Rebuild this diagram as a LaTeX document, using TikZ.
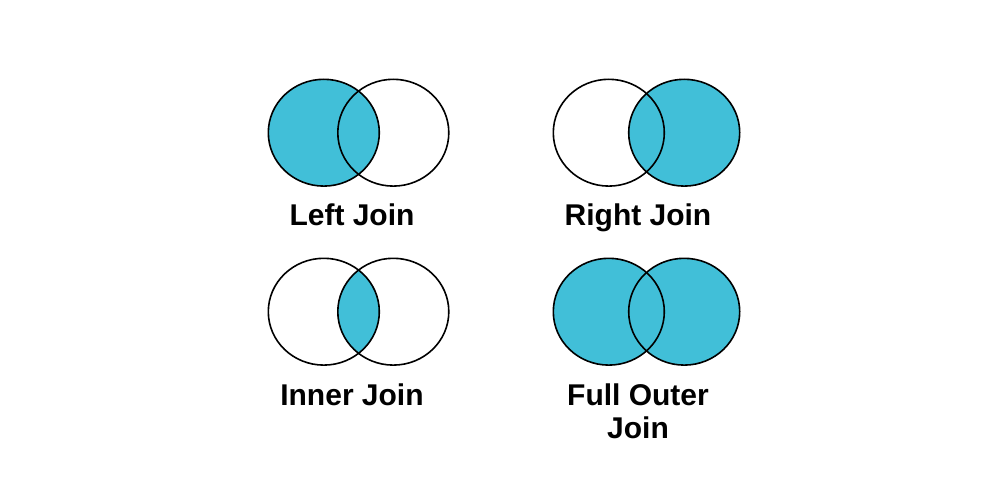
\documentclass[tikz,border=0pt]{standalone}
\usepackage{fontspec}
\setmainfont{Liberation Sans}
\definecolor{joinfill}{HTML}{41BFD8}
\begin{document}
\begin{tikzpicture}[x=1pt,y=-1pt,
  ring/.style={draw=black,line width=1.6pt},
  lbl/.style={font=\bfseries\fontsize{30}{34}\selectfont,anchor=base,inner sep=0pt}]
\useasboundingbox (0,0) rectangle (1000,500);
% Left Join
\fill[joinfill] (323.8,132.7) ellipse [x radius=55.5,y radius=53.4];
\draw[ring] (323.8,132.7) ellipse [x radius=55.5,y radius=53.4];
\draw[ring] (393.3,132.7) ellipse [x radius=55.5,y radius=53.4];
\node[lbl] (lj) at (352,225) {Left Join};
% Right Join
\fill[joinfill] (684.2,132.7) ellipse [x radius=55.5,y radius=53.4];
\draw[ring] (608.8,132.7) ellipse [x radius=55.5,y radius=53.4];
\draw[ring] (684.2,132.7) ellipse [x radius=55.5,y radius=53.4];
\node[lbl] (rj) at (638,225) {Right Join};
% Inner Join
\begin{scope}
\clip (323.8,311.7) ellipse [x radius=55.5,y radius=53.4];
\fill[joinfill] (393.3,311.7) ellipse [x radius=55.5,y radius=53.4];
\end{scope}
\draw[ring] (323.8,311.7) ellipse [x radius=55.5,y radius=53.4];
\draw[ring] (393.3,311.7) ellipse [x radius=55.5,y radius=53.4];
\node[lbl] (ij) at (352,405) {Inner Join};
% Full Outer Join
\fill[joinfill] (608.8,311.7) ellipse [x radius=55.5,y radius=53.4];
\fill[joinfill] (684.2,311.7) ellipse [x radius=55.5,y radius=53.4];
\draw[ring] (608.8,311.7) ellipse [x radius=55.5,y radius=53.4];
\draw[ring] (684.2,311.7) ellipse [x radius=55.5,y radius=53.4];
\node[lbl] (fo1) at (638,405) {Full Outer};
\node[lbl] (fo2) at (638,438.5) {Join};
\end{tikzpicture}
\end{document}
